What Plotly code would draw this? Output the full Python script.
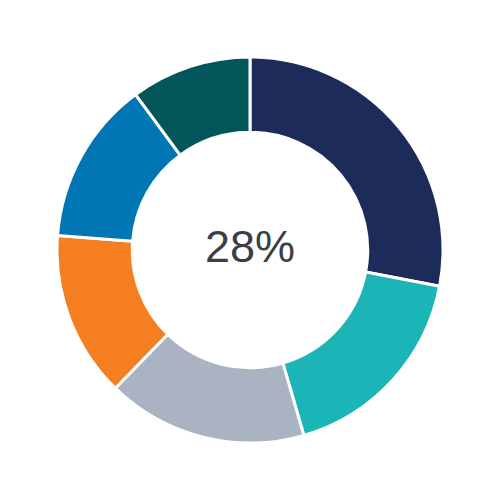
import plotly.graph_objects as go

labels = ["A", "B", "C", "D", "E", "F"]
values = [28, 17.5, 16.8, 13.9, 13.7, 10.1]
colors = ["#1C2B5A", "#1BB4B7", "#A9B3C1", "#F47E20", "#0076B5", "#02565A"]
center_text = "28%"

fig = go.Figure(go.Pie(
    labels=labels,
    values=values,
    hole=0.61,
    sort=False,
    direction="clockwise",
    rotation=0,
    marker=dict(colors=colors, line=dict(color="white", width=3)),
    textinfo="none",
    hoverinfo="label+percent",
    showlegend=False,
))
fig.add_annotation(
    text=center_text, x=0.5, y=0.5, xref="paper", yref="paper",
    showarrow=False, yshift=4,
    font=dict(family="Liberation Sans, Arial, sans-serif", size=45, color="#3A3F47"),
)
fig.update_layout(
    width=500, height=500,
    margin=dict(l=49, r=65, t=49, b=65),
    paper_bgcolor="white", plot_bgcolor="white",
)
fig.write_html("out.html")
